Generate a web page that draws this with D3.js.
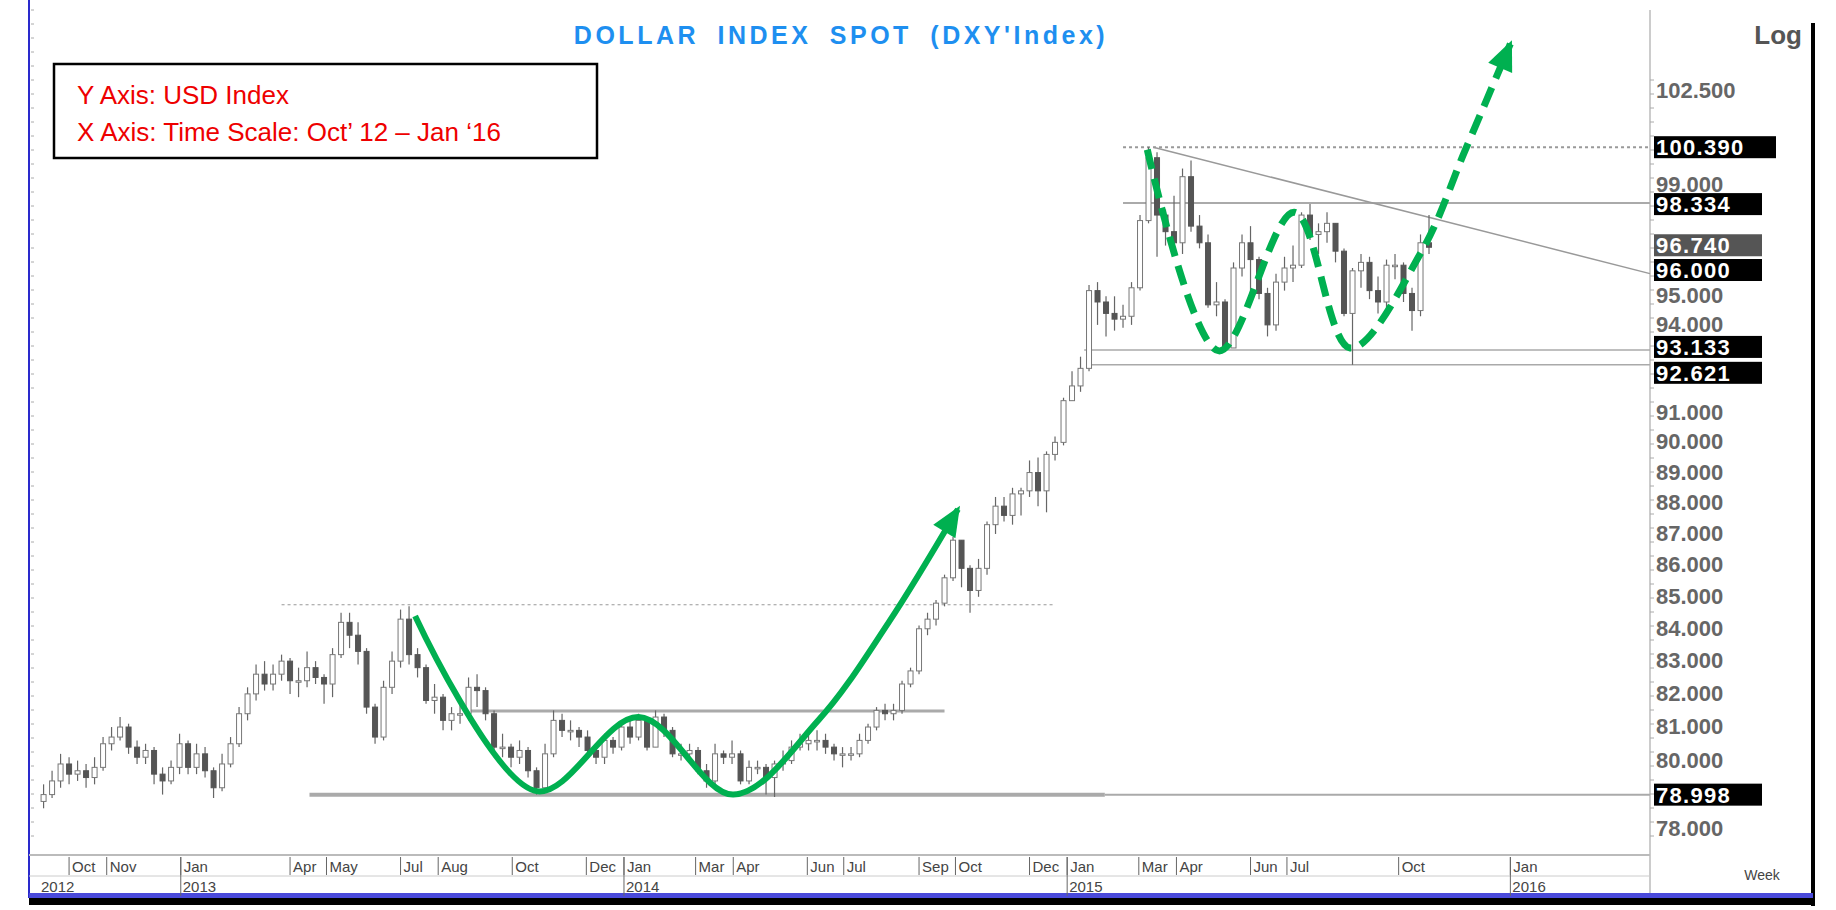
<!DOCTYPE html>
<html><head><meta charset="utf-8">
<script src="https://cdn.jsdelivr.net/npm/d3@7"></script>
<style>body{margin:0;background:#fff}svg{display:block}</style>
</head><body><svg id="c" width="1836" height="910"></svg>
<script>
const startWeek = "2012-09-10";
const closes = [79.0,79.4,79.9,79.6,79.7,79.5,79.8,80.5,80.7,81.0,80.4,80.1,80.3,79.6,79.4,79.8,80.5,
79.8,80.2,79.7,79.2,79.9,80.5,81.4,82.0,82.6,82.3,82.6,83.0,82.4,82.4,82.8,82.5,82.3,83.2,84.2,83.8,83.3,81.6,80.7,82.2,83.0,84.3,83.2,82.8,81.8,81.9,81.2,81.4,81.4,82.2,82.1,81.4,80.4,80.4,80.1,80.3,79.7,79.2,80.2,81.2,80.9,80.9,80.7,80.3,80.1,80.6,80.4,81.0,
80.7,81.2,80.4,81.3,80.9,80.2,80.2,80.3,79.7,79.4,80.2,80.1,80.2,79.4,79.8,79.8,79.5,79.9,80.0,80.4,80.5,80.6,80.6,80.4,80.2,80.2,80.2,80.6,81.0,81.5,81.4,81.5,82.3,82.7,84.0,84.3,84.8,85.6,86.8,85.9,85.2,85.9,87.3,87.9,87.6,88.3,88.4,89.0,88.4,89.6,90.0,91.4,
91.9,92.5,95.2,94.8,94.4,94.2,94.3,95.3,97.7,100.0,97.9,97.3,96.9,99.3,97.5,96.9,94.7,94.8,93.2,96.0,96.9,96.3,95.1,94.0,95.5,96.0,96.1,97.9,97.2,97.3,97.6,96.6,94.4,95.9,96.2,95.2,94.8,96.1,96.1,95.1,94.5,96.9,96.74];
const opens = [78.8].concat(closes.slice(0,-1));
const highs = [79.3,79.7,80.2,80.1,80.0,79.9,80.1,80.7,81.0,81.3,81.1,80.6,80.5,80.4,79.8,80.0,80.8,
80.6,80.5,80.4,79.8,80.2,80.7,81.6,82.2,82.9,83.0,82.9,83.2,83.1,82.8,83.3,83.0,82.6,83.4,84.5,84.5,84.2,83.4,81.7,82.4,83.3,84.6,84.7,83.4,82.9,82.3,82.0,81.6,81.9,82.5,82.6,82.2,81.5,80.8,80.5,80.6,80.4,79.8,80.5,81.5,81.4,81.2,81.0,80.9,80.4,80.8,80.7,81.2,
81.2,81.4,81.3,81.5,81.4,81.0,80.5,80.5,80.4,79.9,80.5,80.3,80.6,80.3,80.0,80.0,79.9,80.0,80.3,80.6,80.8,80.9,80.9,80.8,80.5,80.4,80.4,80.8,81.1,81.6,81.7,81.7,82.4,82.8,84.1,84.5,84.9,85.7,86.9,86.8,86.0,86.2,87.4,88.2,88.2,88.5,88.5,89.4,89.5,89.7,90.2,91.5,
92.4,92.9,95.4,95.5,95.0,95.0,94.7,95.5,97.9,100.39,100.2,98.1,98.6,99.6,99.9,97.9,97.2,95.5,94.9,96.2,97.2,97.5,96.4,95.3,95.8,96.4,96.8,98.0,98.3,97.6,98.0,97.6,96.7,96.0,96.5,96.4,95.7,96.3,96.5,96.2,95.3,97.2,97.9];
const lows = [78.6,78.9,79.2,79.3,79.4,79.2,79.3,79.7,80.3,80.6,80.2,79.9,79.9,79.3,79.0,79.3,79.6,
79.6,79.6,79.5,78.9,79.1,79.8,80.4,81.2,81.8,82.1,82.1,82.4,82.0,81.9,82.2,82.3,81.7,81.9,83.1,83.4,82.9,81.4,80.5,80.6,82.0,82.8,82.9,82.5,81.7,81.4,80.9,80.9,81.1,81.2,81.6,81.2,80.1,80.1,79.8,79.9,79.5,79.0,79.1,80.1,80.7,80.6,80.4,80.2,79.9,79.9,80.2,80.3,
80.5,80.6,80.3,80.4,80.7,80.1,80.0,79.9,79.6,79.2,79.3,79.9,79.9,79.3,79.3,79.6,79.0,78.93,79.7,79.9,80.3,80.3,80.3,80.2,80.0,79.8,80.0,80.1,80.5,80.9,81.2,81.2,81.4,82.2,82.6,83.8,84.1,84.7,85.5,85.3,84.5,85.0,85.7,87.0,87.4,87.3,87.6,88.2,87.9,87.7,89.4,89.9,
91.4,91.7,92.4,94.0,93.6,93.8,93.9,94.0,95.2,97.6,96.4,96.8,96.5,96.5,97.3,96.7,94.6,94.3,93.133,93.2,95.7,95.1,94.9,93.6,93.8,95.2,95.5,96.0,97.0,96.5,96.9,96.2,94.3,92.621,95.3,94.9,94.4,94.6,95.6,94.8,93.8,94.3,96.5];
const yTicks = [102.5,99,95,94,91,90,89,88,87,86,85,84,83,82,81,80,78];
const boxLabels = [100.390,98.334,96.740,96.000,93.133,92.621,78.998];
const boxShift = [0,1,-2,2,-3,8,0];
const monthTicks = ["2012-10-01","2012-11-01","2013-01-01","2013-04-01","2013-05-01","2013-07-01","2013-08-01","2013-10-01","2013-12-01","2014-01-01","2014-03-01","2014-04-01","2014-06-01","2014-07-01","2014-09-01","2014-10-01","2014-12-01","2015-01-01","2015-03-01","2015-04-01","2015-06-01","2015-07-01","2015-10-01","2016-01-01"];
const yearTicks = ["2012-08-29","2013-01-01","2014-01-01","2015-01-01","2016-01-01"];
const yearLabels = ["2012","2013","2014","2015","2016"];
const cupLeft = [["2013-07-13",84.4],["2013-10-21",79.1],["2014-01-13",81.3],["2014-04-01",79.0],["2014-06-10",81.2],["2014-08-07",84.2],["2014-10-03",87.8]];
const cupRight = [["2015-03-08",100.3],["2015-05-06",93.1],["2015-07-07",98.0],["2015-08-22",93.2],["2015-10-20",96.6],["2015-11-25",100.3],["2016-01-01",104.3]];
const levels = [
 {v:84.75,from:"2013-03-25",to:"2014-12-20",dash:"3,3",w:1.2},
 {v:81.48,from:"2013-08-27",to:"2014-09-22",dash:null,w:3},
 {v:78.998,from:"2013-04-17",to:"2015-02-01",dash:null,w:4},
 {v:78.998,from:"2015-02-01",to:"2016-04-25",dash:null,w:2},
 {v:100.39,from:"2015-02-16",to:"2016-04-25",dash:"3,3",w:2},
 {v:98.334,from:"2015-02-16",to:"2016-04-25",dash:null,w:2},
 {v:93.133,from:"2015-01-15",to:"2016-04-25",dash:null,w:1.5},
 {v:92.621,from:"2015-01-20",to:"2016-04-25",dash:null,w:1.5}];
const trend = [["2015-03-13",100.39],["2016-04-25",95.8]];

const P = d3.timeParse("%Y-%m-%d");
const svg = d3.select("#c");
const x = d3.scaleTime().domain([P("2012-08-29"),P("2016-04-25")]).range([29,1650]);
const y = d3.scaleLog().domain([78,102.5]).range([829,91]);
const weeks = closes.map((c,i)=>d3.timeWeek.offset(P(startWeek),i));
const data = closes.map((c,i)=>({d:weeks[i],o:opens[i],h:highs[i],l:lows[i],c}));

svg.append("line").attr("x1",29).attr("x2",29).attr("y1",0).attr("y2",898).attr("stroke","#2a2acc").attr("stroke-width",2);
svg.append("line").attr("x1",1650).attr("x2",1650).attr("y1",10).attr("y2",898).attr("stroke","#999");
svg.append("line").attr("x1",1813).attr("x2",1813).attr("y1",23).attr("y2",906).attr("stroke","#000").attr("stroke-width",4);
svg.append("rect").attr("x",29).attr("y",893).attr("width",1784).attr("height",5).attr("fill","#4a4adb");
svg.append("rect").attr("x",29).attr("y",898).attr("width",1786).attr("height",7).attr("fill","#000");
svg.append("g").selectAll("line").data(d3.range(10,850,14)).join("line")
 .attr("x1",31).attr("x2",34).attr("y1",d=>d).attr("y2",d=>d).attr("stroke","#aaa");
svg.append("g").selectAll("line").data(d3.range(80,850,14)).join("line")
 .attr("x1",1650).attr("x2",1654).attr("y1",d=>d).attr("y2",d=>d).attr("stroke","#aaa");

svg.append("line").attr("x1",29).attr("x2",1650).attr("y1",855).attr("y2",855).attr("stroke","#bbb").attr("stroke-width",2);
svg.append("line").attr("x1",29).attr("x2",1650).attr("y1",876).attr("y2",876).attr("stroke","#ccc");
const mg = svg.append("g").selectAll("g").data(monthTicks.map(P)).join("g").attr("transform",d=>`translate(${x(d)},0)`);
mg.append("line").attr("y1",857).attr("y2",875).attr("stroke","#666");
mg.append("text").attr("x",3).attr("y",872).text(d3.timeFormat("%b")).attr("font-family","Liberation Sans, Arial").attr("font-size",15).attr("fill","#444");
const yg = svg.append("g").selectAll("g").data(yearTicks.map(P)).join("g").attr("transform",d=>`translate(${x(d)},0)`);
yg.append("line").attr("y1",857).attr("y2",896).attr("stroke","#666").attr("opacity",(d,i)=>i?1:0);
yg.append("text").attr("x",(d,i)=>i?2:12).attr("y",892).text((d,i)=>yearLabels[i]).attr("font-family","Liberation Sans, Arial").attr("font-size",15).attr("fill","#444");
svg.append("text").attr("x",1762).attr("y",880).text("Week").attr("font-family","Liberation Sans, Arial").attr("font-size",14).attr("fill","#444").attr("text-anchor","middle");

const lg = svg.append("g");
levels.forEach(L=>{
 lg.append("line").attr("x1",x(P(L.from))).attr("x2",x(P(L.to))).attr("y1",y(L.v)).attr("y2",y(L.v))
  .attr("stroke",L.dash?"#999":"#aaa").attr("stroke-width",L.w).attr("stroke-dasharray",L.dash);
});
svg.append("line").attr("x1",x(P(trend[0][0]))).attr("y1",y(trend[0][1])).attr("x2",x(P(trend[1][0]))).attr("y2",y(trend[1][1])).attr("stroke","#999").attr("stroke-width",1.5);

const cg = svg.append("g").selectAll("g").data(data).join("g").attr("transform",d=>`translate(${x(d.d)},0)`);
cg.append("line").attr("y1",d=>y(d.h)).attr("y2",d=>y(d.l)).attr("stroke","#666").attr("stroke-width",1.2);
cg.append("rect").attr("x",-2.5).attr("width",5).attr("y",d=>y(Math.max(d.o,d.c))).attr("height",d=>Math.max(1.5,Math.abs(y(d.o)-y(d.c))))
 .attr("fill",d=>d.c>=d.o?"#fff":"#555").attr("stroke",d=>d.c>=d.o?"#777":"#555").attr("stroke-width",1);

const line = d3.line().x(d=>x(P(d[0]))).y(d=>y(d[1])).curve(d3.curveCatmullRom.alpha(0.5));
function arrow(pts,dashed){
 svg.append("path").attr("d",line(pts)).attr("fill","none").attr("stroke","#00b050").attr("stroke-width",dashed?7:6)
  .attr("stroke-dasharray",dashed?"20,10":null).attr("stroke-linecap","butt");
 const a=pts[pts.length-2], b=pts[pts.length-1];
 const x1=x(P(a[0])),y1=y(a[1]),x2=x(P(b[0])),y2=y(b[1]);
 const ang=Math.atan2(y2-y1,x2-x1);
 const L=26,W=13;
 const pt=(l,w)=>[x2-l*Math.cos(ang)-w*Math.sin(ang), y2-l*Math.sin(ang)+w*Math.cos(ang)];
 svg.append("path").attr("d",d3.line()([[x2+4*Math.cos(ang),y2+4*Math.sin(ang)],pt(L,W),pt(L,-W)])+"Z").attr("fill","#00b050");
}
arrow(cupLeft,false);
arrow(cupRight,true);

svg.append("g").selectAll("text").data(yTicks).join("text").attr("x",1656).attr("y",d=>y(d)+7)
 .text(d=>d.toFixed(3)).attr("font-family","Liberation Sans, Arial").attr("font-weight","bold").attr("font-size",22).attr("fill","#666");
const bg = svg.append("g").selectAll("g").data(boxLabels).join("g").attr("transform",(d,i)=>`translate(1654,${y(d)+boxShift[i]})`);
bg.append("rect").attr("x",0).attr("y",-11).attr("width",d=>d>=100?122:108).attr("height",22).attr("fill",d=>d===96.74?"#555":"#000");
bg.append("text").attr("x",2).attr("y",8).text(d=>d.toFixed(3)).attr("font-family","Liberation Sans, Arial").attr("font-weight","bold").attr("font-size",22).attr("fill","#fff").attr("letter-spacing",1.3);
svg.append("text").attr("x",1802).attr("y",44).attr("text-anchor","end").text("Log").attr("font-family","Liberation Sans, Arial").attr("font-weight","bold").attr("font-size",26).attr("fill","#555");

svg.append("text").attr("x",841).attr("y",44).attr("text-anchor","middle").text("DOLLAR  INDEX  SPOT  (DXY'Index)")
 .attr("font-family","Liberation Sans, Arial").attr("font-weight","bold").attr("font-size",25).attr("fill","#1e8ff0").attr("letter-spacing",3.5).attr("word-spacing",8);
svg.append("rect").attr("x",54).attr("y",64).attr("width",543).attr("height",94).attr("fill","#fff").attr("stroke","#000").attr("stroke-width",2.5);
svg.append("text").attr("x",77).attr("y",104).text("Y Axis: USD Index").attr("font-family","Liberation Sans Narrow, Arial Narrow, Liberation Sans").attr("font-size",26).attr("fill","#e00");
svg.append("text").attr("x",77).attr("y",141).text("X Axis: Time Scale: Oct’ 12 – Jan ‘16").attr("font-family","Liberation Sans Narrow, Arial Narrow, Liberation Sans").attr("font-size",26).attr("fill","#e00");
</script></body></html>
